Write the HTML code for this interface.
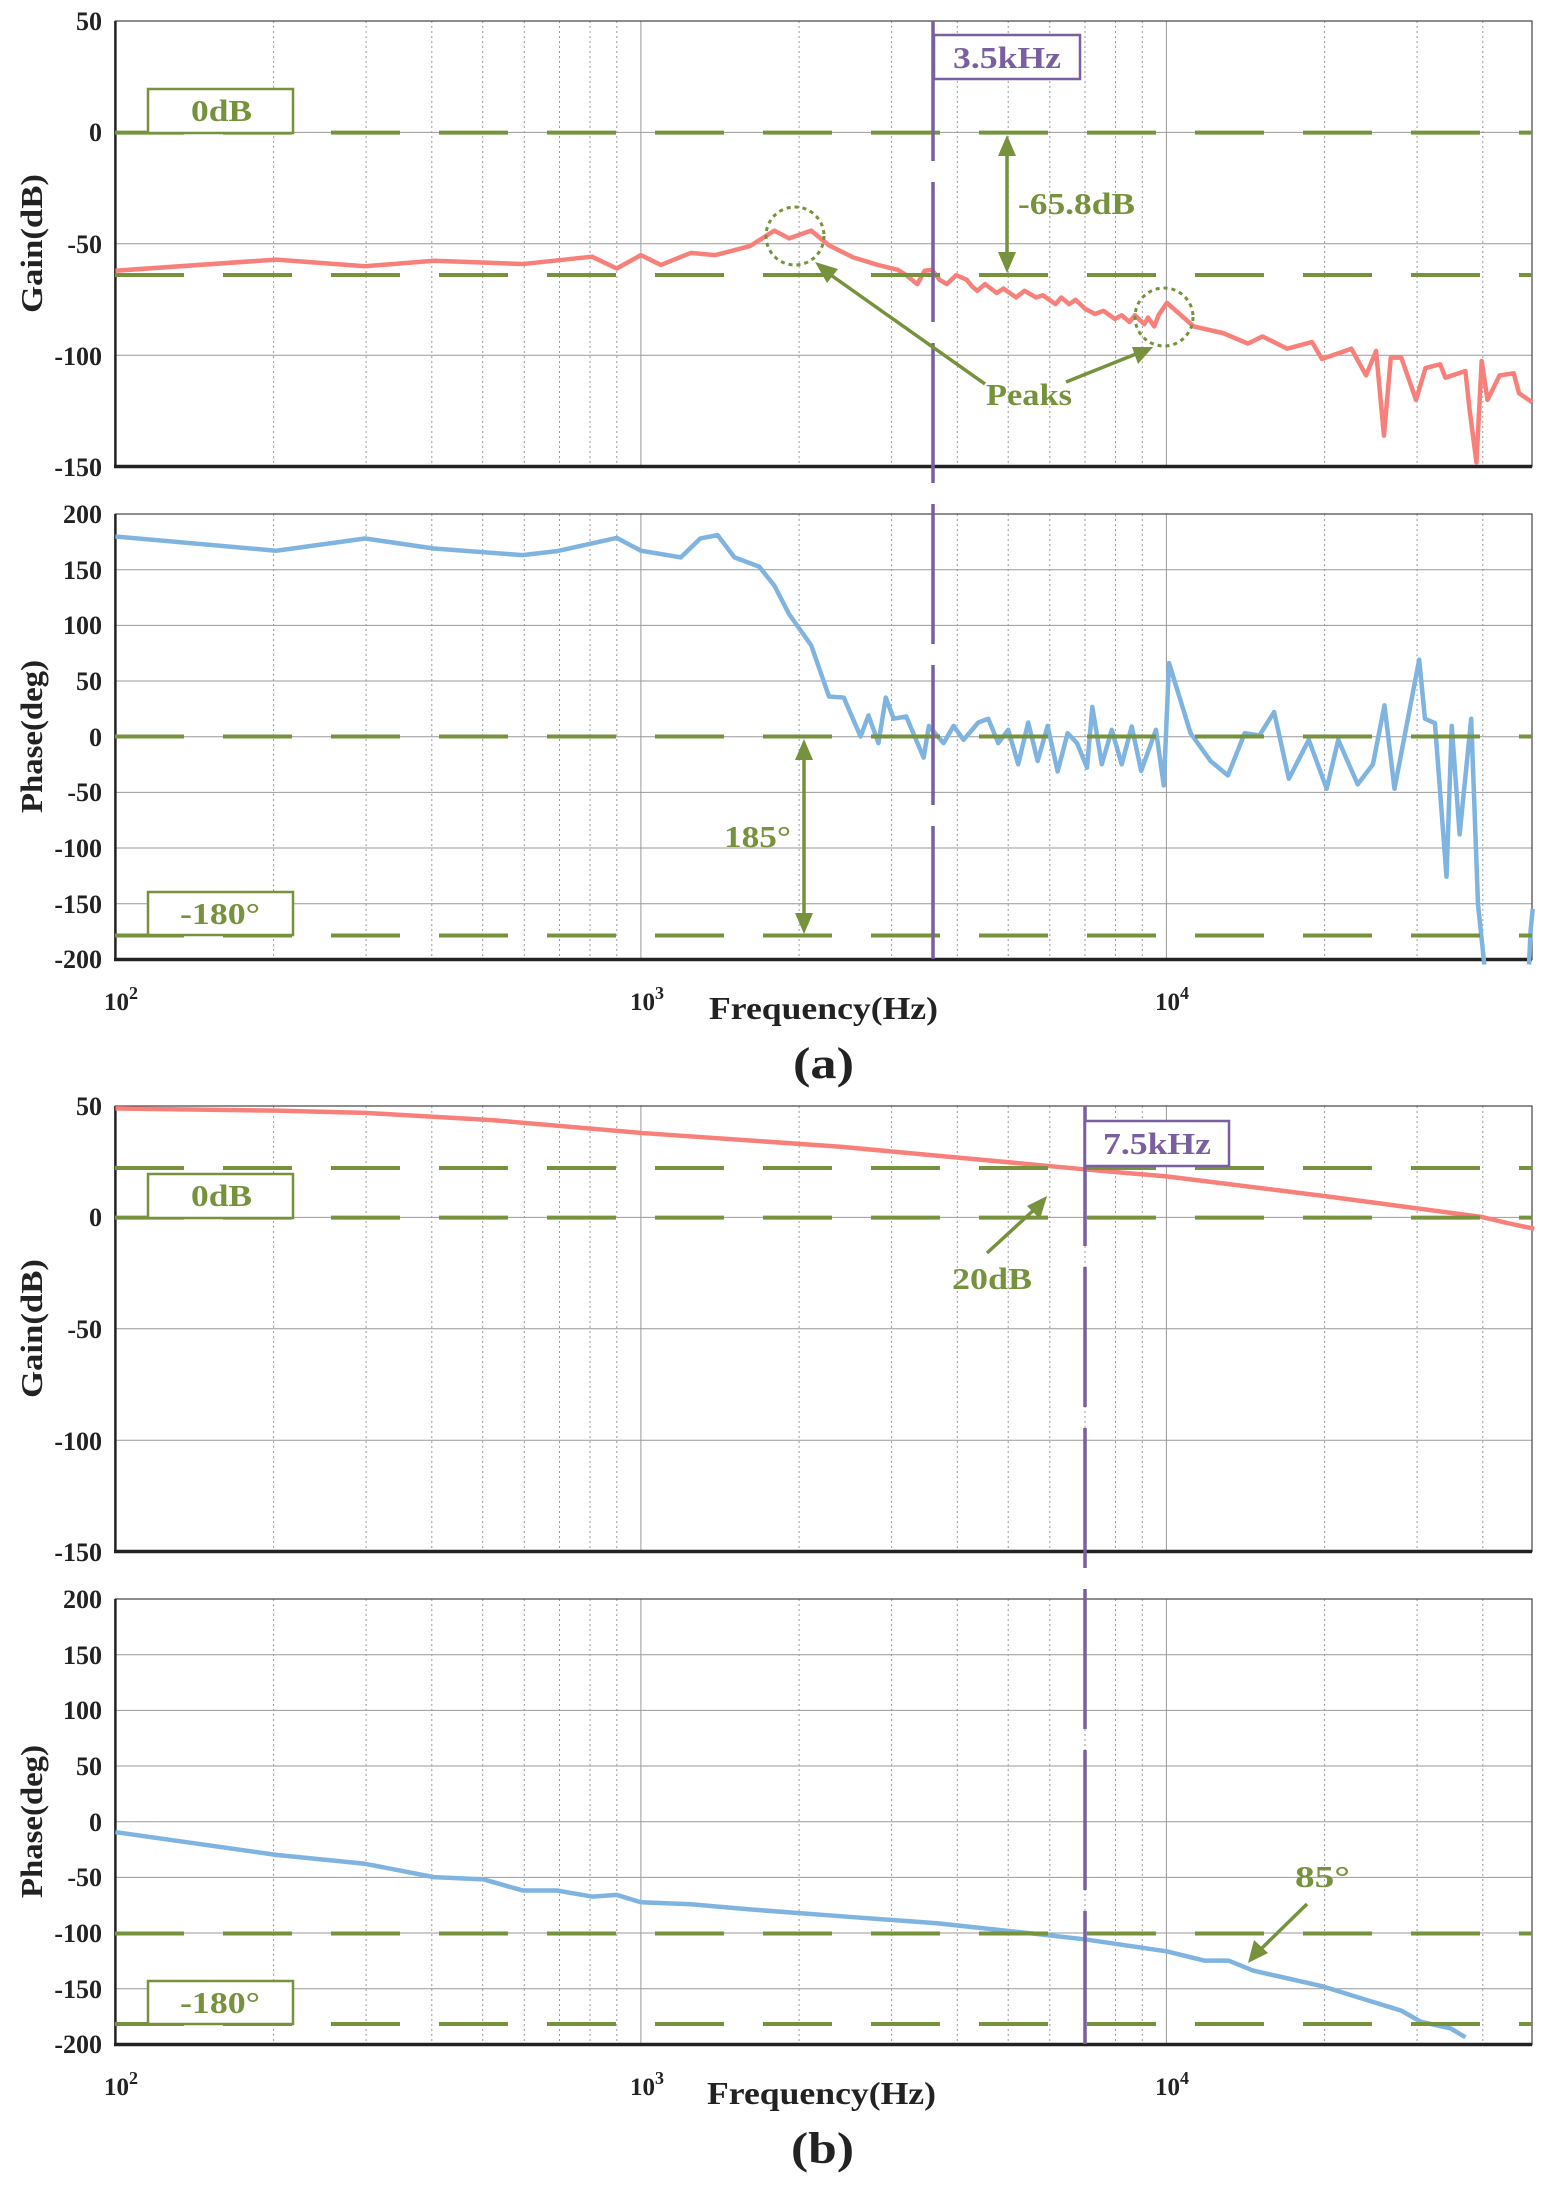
<!DOCTYPE html>
<html><head><meta charset="utf-8"><style>
html,body{margin:0;padding:0;background:#fff;}
svg{display:block;}
text{font-family:"Liberation Serif",serif;font-weight:bold;}
</style></head><body>
<svg width="1547" height="2185" viewBox="0 0 1547 2185" xmlns="http://www.w3.org/2000/svg">
<defs>
<g id="vgrid" stroke="#999" stroke-width="1" stroke-dasharray="2,3">
<line x1="273.6" y1="0" x2="273.6" y2="445.5"/><line x1="366.1" y1="0" x2="366.1" y2="445.5"/><line x1="431.8" y1="0" x2="431.8" y2="445.5"/><line x1="482.7" y1="0" x2="482.7" y2="445.5"/><line x1="524.3" y1="0" x2="524.3" y2="445.5"/><line x1="559.5" y1="0" x2="559.5" y2="445.5"/><line x1="590" y1="0" x2="590" y2="445.5"/><line x1="616.8" y1="0" x2="616.8" y2="445.5"/>
<line x1="799.1" y1="0" x2="799.1" y2="445.5"/><line x1="891.6" y1="0" x2="891.6" y2="445.5"/><line x1="957.3" y1="0" x2="957.3" y2="445.5"/><line x1="1008.2" y1="0" x2="1008.2" y2="445.5"/><line x1="1049.8" y1="0" x2="1049.8" y2="445.5"/><line x1="1085" y1="0" x2="1085" y2="445.5"/><line x1="1115.5" y1="0" x2="1115.5" y2="445.5"/><line x1="1142.3" y1="0" x2="1142.3" y2="445.5"/>
<line x1="1324.6" y1="0" x2="1324.6" y2="445.5"/><line x1="1417.1" y1="0" x2="1417.1" y2="445.5"/><line x1="1482.8" y1="0" x2="1482.8" y2="445.5"/>
</g>
<g id="gaingrid">
<use href="#vgrid"/>
<g stroke="#999" stroke-width="1">
<line x1="640.9" y1="0" x2="640.9" y2="445.5"/><line x1="1166.4" y1="0" x2="1166.4" y2="445.5"/>
<line x1="115" y1="111.4" x2="1532" y2="111.4"/><line x1="115" y1="222.8" x2="1532" y2="222.8"/><line x1="115" y1="334.2" x2="1532" y2="334.2"/>
</g>
<rect x="115.4" y="0" width="1416.6" height="445.5" fill="none" stroke="#444" stroke-width="1.2"/>
<line x1="115.4" y1="0" x2="115.4" y2="447" stroke="#222" stroke-width="2.5"/>
<line x1="114" y1="445.5" x2="1532" y2="445.5" stroke="#222" stroke-width="3.5"/>
</g>
<g id="phasegrid">
<use href="#vgrid"/>
<g stroke="#999" stroke-width="1">
<line x1="640.9" y1="0" x2="640.9" y2="445.5"/><line x1="1166.4" y1="0" x2="1166.4" y2="445.5"/>
<line x1="115" y1="55.7" x2="1532" y2="55.7"/><line x1="115" y1="111.4" x2="1532" y2="111.4"/><line x1="115" y1="167" x2="1532" y2="167"/><line x1="115" y1="222.7" x2="1532" y2="222.7"/><line x1="115" y1="278.4" x2="1532" y2="278.4"/><line x1="115" y1="334" x2="1532" y2="334"/><line x1="115" y1="389.8" x2="1532" y2="389.8"/>
</g>
<rect x="115.4" y="0" width="1416.6" height="445.5" fill="none" stroke="#444" stroke-width="1.2"/>
<line x1="115.4" y1="0" x2="115.4" y2="447" stroke="#222" stroke-width="2.5"/>
<line x1="114" y1="445.5" x2="1532" y2="445.5" stroke="#222" stroke-width="3.5"/>
</g>
</defs>

<!-- ===== Panel (a) ===== -->
<use href="#gaingrid" transform="translate(0,21)"/>
<use href="#phasegrid" transform="translate(0,514)"/>

<g transform="matrix(525.5 0 0 -2.228 115.4 132.6)">
<polyline fill="none" stroke="#f8807a" stroke-width="4.5" vector-effect="non-scaling-stroke" stroke-linejoin="round" points="0,-62 0.306,-57 0.475,-60 0.606,-57.5 0.775,-59 0.907,-55.7 0.954,-61 1.0,-55 1.038,-59.4 1.095,-54 1.141,-55 1.207,-51 1.254,-44 1.282,-47.5 1.324,-44 1.358,-50.6 1.404,-56 1.451,-59.4 1.489,-61.6 1.505,-64 1.526,-68 1.54,-62 1.554,-61.6 1.568,-66 1.582,-68 1.6,-64 1.620,-66 1.630,-69 1.640,-71 1.655,-68 1.677,-72 1.69,-70 1.714,-74 1.73,-71 1.752,-74 1.765,-73 1.789,-77 1.80,-74 1.815,-77 1.827,-75 1.845,-79 1.864,-81.4 1.88,-80 1.902,-83.6 1.915,-82 1.930,-85 1.94,-82 1.958,-86 1.965,-83 1.977,-87 1.985,-82 2.001,-76.4 2.052,-87 2.108,-90 2.155,-94.7 2.183,-91.5 2.230,-97 2.277,-94 2.296,-101.6 2.352,-97 2.380,-109 2.399,-98 2.414,-136 2.427,-101 2.447,-101 2.475,-120 2.493,-105.7 2.521,-104 2.531,-110 2.569,-107 2.577,-124.5 2.590,-148 2.600,-102.5 2.611,-120 2.634,-109 2.661,-108 2.671,-117 2.696,-121"/>
</g>
<g transform="matrix(525.5 0 0 -1.1125 115.4 736.5)">
<polyline fill="none" stroke="#7fb4e0" stroke-width="4.5" vector-effect="non-scaling-stroke" stroke-linejoin="round" points="0,179.8 0.306,167 0.475,178 0.606,169 0.775,163 0.840,166.6 0.954,178.5 1.0,167 1.076,161 1.113,178 1.146,181 1.178,161 1.225,152.7 1.254,135.6 1.282,110 1.324,82 1.358,36 1.386,35 1.418,0 1.433,19 1.452,-6 1.466,35 1.481,16 1.505,18 1.538,-19 1.548,9.5 1.576,-6 1.595,9.5 1.614,-3 1.642,12.6 1.661,16 1.680,-6 1.699,6 1.718,-25 1.737,12.6 1.755,-22 1.774,9.5 1.793,-31.5 1.812,3 1.830,-6 1.849,-28 1.859,26.5 1.877,-25 1.896,6 1.915,-25 1.934,9 1.952,-31 1.980,6 1.995,-44 2.005,66 2.046,3 2.084,-22 2.117,-35 2.149,3 2.177,1 2.205,22 2.233,-38 2.271,-3 2.305,-47 2.327,-3 2.364,-43 2.393,-25 2.415,28 2.434,-47 2.481,69 2.492,16 2.511,12 2.533,-126 2.543,9.5 2.558,-88 2.580,16 2.593,-151 2.605,-205"/>
<polyline fill="none" stroke="#7fb4e0" stroke-width="4.5" vector-effect="non-scaling-stroke" points="2.690,-205 2.693,-175 2.697,-155"/>
</g>

<g stroke="#76923c" stroke-width="4" stroke-dasharray="69,39">
<line x1="115" y1="132.6" x2="1532" y2="132.6"/>
<line x1="115" y1="275" x2="1532" y2="275"/>
<line x1="115" y1="736.5" x2="1532" y2="736.5"/>
<line x1="115" y1="935.5" x2="1532" y2="935.5"/>
</g>
<line x1="933" y1="21" x2="933" y2="959" stroke="#7a5fa0" stroke-width="3.5" stroke-dasharray="140,21"/>
<rect x="934" y="35" width="146" height="44" fill="#fff" stroke="#7a5fa0" stroke-width="2.5"/>
<text x="953" y="68" font-size="31" fill="#7a5fa0" textLength="108" lengthAdjust="spacingAndGlyphs">3.5kHz</text>
<rect x="148" y="89" width="145" height="44" fill="#fff" stroke="#76923c" stroke-width="2.5"/>
<text x="191" y="121" font-size="31" fill="#76923c" textLength="61" lengthAdjust="spacingAndGlyphs">0dB</text>
<line x1="1007" y1="150" x2="1007" y2="258" stroke="#76923c" stroke-width="3.5"/>
<path d="M1007,135 L998,156 L1016,156 z M1007,273 L998,252 L1016,252 z" fill="#76923c"/>
<text x="1018" y="214" font-size="31" fill="#76923c" textLength="117" lengthAdjust="spacingAndGlyphs">-65.8dB</text>
<circle cx="795" cy="236" r="29" fill="none" stroke="#76923c" stroke-width="3" stroke-dasharray="4,4"/>
<circle cx="1164" cy="317" r="29" fill="none" stroke="#76923c" stroke-width="3" stroke-dasharray="4,4"/>
<line x1="985" y1="384" x2="828" y2="273" stroke="#76923c" stroke-width="3.5"/>
<path d="M815,262 L838,269 L827,283 z" fill="#76923c"/>
<line x1="1066" y1="382" x2="1136" y2="354" stroke="#76923c" stroke-width="3.5"/>
<path d="M1153,347 L1138,364 L1132,347 z" fill="#76923c"/>
<text x="986" y="405" font-size="31" fill="#76923c" textLength="86" lengthAdjust="spacingAndGlyphs">Peaks</text>
<rect x="148" y="892" width="145" height="43" fill="#fff" stroke="#76923c" stroke-width="2.5"/>
<text x="180" y="924" font-size="31" fill="#76923c" textLength="80" lengthAdjust="spacingAndGlyphs">-180°</text>
<line x1="804" y1="755" x2="804" y2="918" stroke="#76923c" stroke-width="3.5"/>
<path d="M804,739 L795,760 L813,760 z M804,934 L795,913 L813,913 z" fill="#76923c"/>
<text x="724" y="847" font-size="31" fill="#76923c" textLength="67" lengthAdjust="spacingAndGlyphs">185°</text>

<g font-size="26" fill="#222" text-anchor="end">
<text x="102" y="30">50</text><text x="102" y="141">0</text><text x="102" y="253">-50</text><text x="102" y="365">-100</text><text x="102" y="476">-150</text>
<text x="102" y="523">200</text><text x="102" y="579">150</text><text x="102" y="634">100</text><text x="102" y="690">50</text><text x="102" y="746">0</text><text x="102" y="801">-50</text><text x="102" y="857">-100</text><text x="102" y="913">-150</text><text x="102" y="968">-200</text>
</g>
<g font-size="25" fill="#222" text-anchor="middle">
<text x="121" y="1010">10<tspan dy="-11" font-size="18">2</tspan></text>
<text x="647" y="1010">10<tspan dy="-11" font-size="18">3</tspan></text>
<text x="1172" y="1010">10<tspan dy="-11" font-size="18">4</tspan></text>
</g>
<text x="709" y="1019" font-size="32" fill="#222" textLength="229" lengthAdjust="spacingAndGlyphs">Frequency(Hz)</text>
<text x="793" y="1078" font-size="44" fill="#222" textLength="61" lengthAdjust="spacingAndGlyphs">(a)</text>
<text transform="translate(42,313) rotate(-90)" font-size="31" fill="#222" textLength="139" lengthAdjust="spacingAndGlyphs">Gain(dB)</text>
<text transform="translate(42,813) rotate(-90)" font-size="31" fill="#222" textLength="153" lengthAdjust="spacingAndGlyphs">Phase(deg)</text>

<!-- ===== Panel (b) ===== -->
<use href="#gaingrid" transform="translate(0,1106)"/>
<use href="#phasegrid" transform="translate(0,1599)"/>

<g transform="matrix(525.5 0 0 -2.228 115.4 1217.6)">
<polyline fill="none" stroke="#f8807a" stroke-width="4.5" vector-effect="non-scaling-stroke" points="0,49 0.306,48 0.475,47 0.72,43.7 1.0,38 1.38,31.8 1.875,21 2.0,18.5 2.30,9.7 2.45,5 2.60,0.3 2.65,-2.5 2.70,-5"/>
</g>
<g transform="matrix(525.5 0 0 -1.1125 115.4 1821.5)">
<polyline fill="none" stroke="#7fb4e0" stroke-width="4.5" vector-effect="non-scaling-stroke" stroke-linejoin="round" points="0,-9.5 0.306,-30 0.475,-38 0.606,-50 0.700,-52 0.775,-62 0.840,-62 0.907,-67.5 0.954,-66 1.0,-72.6 1.095,-74.4 1.207,-79 1.376,-85 1.563,-91.5 1.752,-101 1.846,-106 2.0,-116.7 2.072,-125 2.118,-125 2.165,-134 2.221,-140 2.296,-148 2.371,-159 2.447,-170 2.484,-180 2.541,-186 2.569,-194"/>
</g>

<g stroke="#76923c" stroke-width="4" stroke-dasharray="69,39">
<line x1="115" y1="1168" x2="1532" y2="1168"/>
<line x1="115" y1="1217.6" x2="1532" y2="1217.6"/>
<line x1="115" y1="1933.5" x2="1532" y2="1933.5"/>
<line x1="115" y1="2024" x2="1532" y2="2024"/>
</g>
<line x1="1085" y1="1106" x2="1085" y2="2044" stroke="#7a5fa0" stroke-width="3.5" stroke-dasharray="140,21"/>
<rect x="1085" y="1121" width="144" height="45" fill="#fff" stroke="#7a5fa0" stroke-width="2.5"/>
<text x="1103" y="1154" font-size="31" fill="#7a5fa0" textLength="108" lengthAdjust="spacingAndGlyphs">7.5kHz</text>
<rect x="148" y="1174" width="145" height="44" fill="#fff" stroke="#76923c" stroke-width="2.5"/>
<text x="191" y="1206" font-size="31" fill="#76923c" textLength="61" lengthAdjust="spacingAndGlyphs">0dB</text>
<line x1="987" y1="1253" x2="1036" y2="1208" stroke="#76923c" stroke-width="3.5"/>
<path d="M1047,1196 L1040,1219 L1027,1206 z" fill="#76923c"/>
<text x="952" y="1289" font-size="31" fill="#76923c" textLength="80" lengthAdjust="spacingAndGlyphs">20dB</text>
<rect x="148" y="1981" width="145" height="43" fill="#fff" stroke="#76923c" stroke-width="2.5"/>
<text x="180" y="2013" font-size="31" fill="#76923c" textLength="80" lengthAdjust="spacingAndGlyphs">-180°</text>
<line x1="1307" y1="1904" x2="1259" y2="1951" stroke="#76923c" stroke-width="3.5"/>
<path d="M1248,1963 L1254,1940 L1268,1953 z" fill="#76923c"/>
<text x="1295" y="1887" font-size="31" fill="#76923c" textLength="55" lengthAdjust="spacingAndGlyphs">85°</text>

<g font-size="26" fill="#222" text-anchor="end">
<text x="102" y="1115">50</text><text x="102" y="1226">0</text><text x="102" y="1338">-50</text><text x="102" y="1450">-100</text><text x="102" y="1561">-150</text>
<text x="102" y="1608">200</text><text x="102" y="1664">150</text><text x="102" y="1719">100</text><text x="102" y="1775">50</text><text x="102" y="1831">0</text><text x="102" y="1886">-50</text><text x="102" y="1942">-100</text><text x="102" y="1998">-150</text><text x="102" y="2053">-200</text>
</g>
<g font-size="25" fill="#222" text-anchor="middle">
<text x="121" y="2095">10<tspan dy="-11" font-size="18">2</tspan></text>
<text x="647" y="2095">10<tspan dy="-11" font-size="18">3</tspan></text>
<text x="1172" y="2095">10<tspan dy="-11" font-size="18">4</tspan></text>
</g>
<text x="707" y="2104" font-size="32" fill="#222" textLength="229" lengthAdjust="spacingAndGlyphs">Frequency(Hz)</text>
<text x="791" y="2163" font-size="44" fill="#222" textLength="63" lengthAdjust="spacingAndGlyphs">(b)</text>
<text transform="translate(42,1398) rotate(-90)" font-size="31" fill="#222" textLength="139" lengthAdjust="spacingAndGlyphs">Gain(dB)</text>
<text transform="translate(42,1898) rotate(-90)" font-size="31" fill="#222" textLength="153" lengthAdjust="spacingAndGlyphs">Phase(deg)</text>
</svg>
</body></html>
